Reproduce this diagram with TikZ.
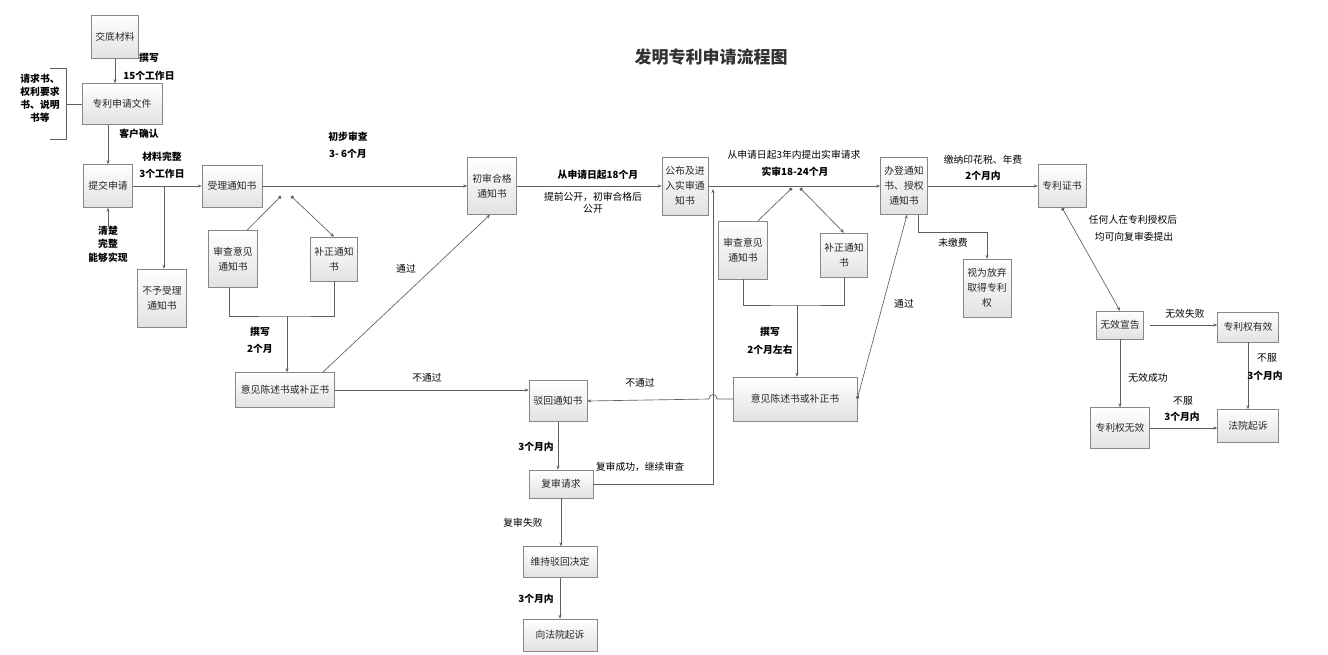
\documentclass[tikz,border=0pt]{standalone}
\usepackage{fontspec}
\setmainfont{Noto Sans CJK SC}
\usetikzlibrary{arrows.meta}
\definecolor{trait}{RGB}{95,95,95}
\definecolor{bord}{RGB}{135,135,135}
\definecolor{fond}{RGB}{226,226,226}

\begin{document}
\begin{tikzpicture}[x=1pt, y=-1pt,
	boite/.style={draw=bord, top color=white, bottom color=fond, align=center, inner sep=1pt, text=black!85, font=\fontsize{9.8}{15}\selectfont},
	taille/.style 2 args={minimum width=#1pt, minimum height=#2pt},
	tr/.style={draw=trait, line width=0.65pt},
	fl/.style={tr, -{Stealth[length=4pt,width=3pt]}},
	pt/.style={tr, {Circle[length=3.4pt]}-{Stealth[length=4pt,width=3pt]}},
	lab/.style={align=center, inner sep=0pt, font=\fontsize{9.8}{12}\selectfont\bfseries},
	labn/.style={align=center, inner sep=0pt, font=\fontsize{9.8}{12}\selectfont}]

	\useasboundingbox[fill=white] (0,0) rectangle (1328,654);

	\node[font=\fontsize{17}{20}\selectfont\bfseries, text=black!80] (titre) at (711,57) {发明专利申请流程图};

	%les boites
	\node[boite,taille={47}{43}] (jiaodi) at (115,37) {交底材料};
	\node[boite,taille={80}{41}] (wenjian) at (122,104) {专利申请文件};
	\node[boite,taille={49}{43}] (tijiao) at (108,186) {提交申请};
	\node[boite,taille={60}{42}] (shouli) at (232,186) {受理通知书};
	\node[boite,taille={49}{58}] (buyu) at (162,298) {不予受理\\通知书};
	\node[boite,taille={49}{57}] (yijianA) at (233,259) {审查意见\\通知书};
	\node[boite,taille={47}{44}] (buzhengA) at (334,259) {补正通知\\书};
	\node[boite,taille={99}{35}] (chenshuA) at (285,390) {意见陈述书或补正书};
	\node[boite,taille={49}{57}] (chushen) at (492,186) {初审合格\\通知书};
	\node[boite,taille={46}{58}] (gongbu) at (685,186) {公布及进\\入实审通\\知书};
	\node[boite,taille={58}{41}] (bohui) at (558,401) {驳回通知书};
	\node[boite,taille={64}{28}] (fushen) at (561,484) {复审请求};
	\node[boite,taille={74}{31}] (weichi) at (560,562) {维持驳回决定};
	\node[boite,taille={74}{32}] (qisu) at (560,635) {向法院起诉};
	\node[boite,taille={49}{58}] (yijianB) at (743,250) {审查意见\\通知书};
	\node[boite,taille={47}{44}] (buzhengB) at (844,255) {补正通知\\书};
	\node[boite,taille={124}{44}] (chenshuB) at (795,399) {意见陈述书或补正书};
	\node[boite,taille={47}{57}] (bandeng) at (904,186) {办登通知\\书、授权\\通知书};
	\node[boite,taille={48}{58}] (fangqi) at (987,288) {视为放弃\\取得专利\\权};
	\node[boite,taille={48}{43}] (zhengshu) at (1062,186) {专利证书};
	\node[boite,taille={47}{28}] (wuxiao) at (1120,325) {无效宣告};
	\node[boite,taille={61}{30}] (youxiao) at (1248,327) {专利权有效};
	\node[boite,taille={59}{41}] (wuxiaoq) at (1120,428) {专利权无效};
	\node[boite,taille={61}{33}] (fayuan) at (1248,426) {法院起诉};

	%accolade
	\node[lab, font=\fontsize{9.8}{13}\selectfont\bfseries] (piece) at (40,98) {请求书、\\权利要求\\书、说明\\书等};
	\draw[tr] (50,68) -- (66,68) -- (66,139) -- (50,139);
	\draw[tr] (66,104) -- (wenjian.west);
	\node[lab, font=\fontsize{9.8}{13.5}\selectfont\bfseries] (qingchu) at (108,244) {清楚\\完整\\能够实现};

	%les fleches
	\coordinate (bif) at (164,186);
	\coordinate (pA1) at (281,196);
	\coordinate (pA2) at (291,196);
	\coordinate (jA) at (287,316);
	\coordinate (pB1) at (792,188);
	\coordinate (pB2) at (800,188);
	\coordinate (jB) at (797,305);
	\coordinate (retour) at (713,189);
	\coordinate (saut) at (713,399);

	\draw[fl] (jiaodi.south) -- (jiaodi.south |- wenjian.north);
	\draw[fl] (tijiao.north |- wenjian.south) -- (tijiao.north);
	\draw[fl] ([yshift=-1pt]qingchu.north) -- (tijiao.south);
	\draw[fl] (tijiao) -- (shouli);
	\draw[fl] (bif) -- (bif |- buyu.north);
	\draw[fl] (shouli) -- (chushen);
	\draw[fl] (chushen) -- (gongbu);
	\draw[fl] (gongbu) -- (bandeng);
	\draw[fl] (bandeng) -- (zhengshu);

	\draw[tr, -{Circle[length=3.4pt]}] ([xshift=14pt]yijianA.north) -- (pA1);
	\draw[pt] (pA2) -- (buzhengA.north);
	\draw[tr] ([xshift=-4pt]yijianA.south) |- (jA) -| (buzhengA.south);
	\draw[fl] (jA) -- (jA |- chenshuA.north);
	\draw[fl] ([xshift=-12pt]chenshuA.north east) -- ([xshift=-2pt]chushen.south);
	\draw[fl] (chenshuA.east) -- (chenshuA.east -| bohui.west);

	\draw[tr, -{Circle[length=3.4pt]}] ([xshift=15pt]yijianB.north) -- (pB1);
	\draw[pt] (pB2) -- (buzhengB.north);
	\draw[tr] (yijianB.south) |- (jB) -| (buzhengB.south);
	\draw[fl] (jB) -- (jB |- chenshuB.north);
	\draw[pt] (chenshuB.east) -- ([xshift=3pt]bandeng.south);
	\draw[fl] (chenshuB.west) -- ([xshift=4pt]saut) .. controls ([xshift=4pt,yshift=6pt]saut) and ([xshift=-4pt,yshift=6pt]saut) .. ([xshift=-4pt]saut) -- (bohui.east);

	\draw[fl] (bohui.south) -- (bohui.south |- fushen.north);
	\draw[fl] (fushen.east) -| (retour);
	\draw[fl] (fushen.south) -- (fushen.south |- weichi.north);
	\draw[fl] (weichi) -- (qisu);

	\draw[fl] ([xshift=14pt]bandeng.south) -- ++(0,18) -| (fangqi.north);
	\draw[pt] (zhengshu.south) -- (wuxiao.north);
	\draw[fl, shorten <=6pt] (wuxiao.east) -- (wuxiao.east -| youxiao.west);
	\draw[fl] (wuxiao) -- (wuxiaoq);
	\draw[fl] (wuxiaoq.east) -- (wuxiaoq.east -| fayuan.west);
	\draw[fl] (youxiao) -- (fayuan);

	%les textes
	\node[lab] (zhuanxieA) at (149,58) {撰写};
	\node[lab] (gzrA) at (149,76) {15个工作日};
	\node[lab] (queren) at (139,134) {客户确认};
	\node[lab] (wanzheng) at (162,157) {材料完整};
	\node[lab] (gzrB) at (162,174) {3个工作日};
	\node[lab] (chubu) at (348,137) {初步审查};
	\node[lab] (yueA) at (348,154) {3- 6个月};
	\node[labn] (tongguoA) at (406,269) {通过};
	\node[lab] (zhuanxieB) at (260,332) {撰写};
	\node[lab] (yueB) at (260,349) {2个月};
	\node[labn] (butgA) at (427,378) {不通过};
	\node[lab] (yue18) at (598,175) {从申请日起18个月};
	\node[labn] (tiqian) at (593,203) {提前公开，初审合格后\\公开};
	\node[labn] (sannian) at (794,155) {从申请日起3年内提出实审请求};
	\node[lab] (shishen) at (795,172) {实审18-24个月};
	\node[lab] (zhuanxieC) at (770,332) {撰写};
	\node[lab] (yueC) at (770,350) {2个月左右};
	\node[labn] (tongguoB) at (904,304) {通过};
	\node[labn] (butgB) at (640,383) {不通过};
	\node[labn] (jiaona) at (983,160) {缴纳印花税、年费};
	\node[lab] (yueD) at (983,176) {2个月内};
	\node[labn] (weijiao) at (953,243) {未缴费};
	\node[lab] (sanyueA) at (536,447) {3个月内};
	\node[labn] (chenggong) at (640,467) {复审成功，继续审查};
	\node[labn] (shibai) at (523,523) {复审失败};
	\node[lab] (sanyueB) at (536,599) {3个月内};
	\node[labn] (renhe) at (1133,220) {任何人在专利授权后};
	\node[labn] (junke) at (1134,237) {均可向复审委提出};
	\node[labn] (wxsb) at (1185,314) {无效失败};
	\node[labn] (wxcg) at (1148,378) {无效成功};
	\node[labn] (bufuA) at (1183,401) {不服};
	\node[lab] (sanyueC) at (1182,417) {3个月内};
	\node[labn] (bufuB) at (1267,358) {不服};
	\node[lab] (sanyueD) at (1265,376) {3个月内};

\end{tikzpicture}
\end{document}
